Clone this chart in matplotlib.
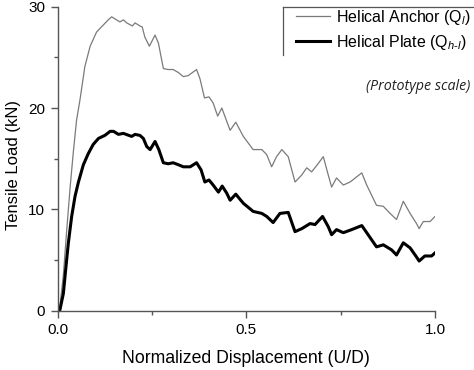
import matplotlib
matplotlib.use("Agg")
import matplotlib.pyplot as plt
from matplotlib.lines import Line2D
from matplotlib.ticker import MultipleLocator

plt.rcParams["font.family"] = ["Liberation Sans", "DejaVu Sans"]
plt.rcParams["mathtext.fontset"] = "custom"
plt.rcParams["mathtext.rm"] = "Liberation Sans"
plt.rcParams["mathtext.it"] = "Liberation Sans:italic"

# Helical anchor (Q_l)
anchor_x = [0.0, 0.006, 0.015, 0.024, 0.033, 0.041, 0.050, 0.059, 0.072, 0.086,
            0.103, 0.121, 0.134, 0.143, 0.156, 0.165, 0.174, 0.183, 0.198, 0.205,
            0.218, 0.224, 0.231, 0.243, 0.258, 0.267, 0.280, 0.293, 0.306, 0.320,
            0.333, 0.346, 0.368, 0.377, 0.389, 0.401, 0.412, 0.424, 0.435, 0.448,
            0.457, 0.472, 0.492, 0.518, 0.541, 0.554, 0.567, 0.580, 0.594, 0.611,
            0.629, 0.647, 0.660, 0.673, 0.688, 0.704, 0.717, 0.726, 0.739, 0.757,
            0.775, 0.792, 0.806, 0.819, 0.845, 0.863, 0.881, 0.898, 0.916, 0.934,
            0.951, 0.958, 0.969, 0.987, 1.0]
anchor_y = [0.0, 0.5, 3.5, 8.0, 12.2, 15.5, 18.8, 20.8, 24.1, 26.1,
            27.5, 28.2, 28.7, 29.0, 28.7, 28.5, 28.7, 28.4, 28.1, 28.4,
            28.1, 28.0, 27.0, 26.1, 27.2, 26.4, 23.9, 23.8, 23.8, 23.5,
            23.1, 23.2, 23.8, 22.9, 21.0, 21.1, 20.5, 19.2, 20.0, 18.7,
            17.8, 18.6, 17.2, 15.9, 15.9, 15.4, 14.2, 15.2, 15.9, 15.2,
            12.7, 13.4, 14.1, 13.7, 14.4, 15.2, 13.4, 12.2, 13.1, 12.4,
            12.7, 13.2, 13.6, 12.4, 10.4, 10.3, 9.6, 9.0, 10.8, 9.6,
            8.6, 8.1, 8.8, 8.8, 9.3]

# Helical plate (Q_h-l)
plate_x = [0.0015, 0.006, 0.015, 0.021, 0.028, 0.037, 0.046, 0.055, 0.068, 0.081,
           0.094, 0.108, 0.125, 0.139, 0.148, 0.161, 0.174, 0.196, 0.205, 0.218,
           0.227, 0.236, 0.245, 0.258, 0.268, 0.280, 0.293, 0.306, 0.320, 0.333,
           0.351, 0.368, 0.380, 0.390, 0.401, 0.412, 0.426, 0.436, 0.448, 0.457,
           0.472, 0.492, 0.518, 0.541, 0.554, 0.571, 0.589, 0.611, 0.629, 0.647,
           0.669, 0.682, 0.702, 0.717, 0.726, 0.739, 0.757, 0.779, 0.806, 0.819,
           0.845, 0.863, 0.885, 0.898, 0.916, 0.934, 0.951, 0.958, 0.973, 0.991,
           1.0]
plate_y = [0.0, 0.1, 1.7, 4.0, 6.6, 9.3, 11.3, 12.7, 14.4, 15.5,
           16.4, 17.0, 17.3, 17.7, 17.7, 17.4, 17.5, 17.2, 17.4, 17.3,
           17.0, 16.2, 15.9, 16.7, 15.9, 14.6, 14.5, 14.6, 14.4, 14.2,
           14.2, 14.6, 13.9, 12.7, 12.9, 12.4, 11.7, 12.3, 11.6, 10.9,
           11.5, 10.6, 9.8, 9.6, 9.3, 8.7, 9.6, 9.7, 7.8, 8.1,
           8.6, 8.5, 9.3, 8.3, 7.5, 8.0, 7.7, 8.0, 8.4, 7.7,
           6.3, 6.5, 6.0, 5.5, 6.7, 6.2, 5.3, 4.9, 5.4, 5.4,
           5.7]

W, H = 474, 370
fig = plt.figure(figsize=(W / 100, H / 100), dpi=100)
ax = fig.add_axes([57.7 / W, 1 - 310.7 / H, (435 - 57.7) / W, (310.7 - 6.7) / H])

ax.plot(anchor_x, anchor_y, color="#7a7a7a", lw=0.9, solid_joinstyle="round",
        label=r"Helical Anchor (Q$_{l}$)")
ax.plot(plate_x, plate_y, color="black", lw=2.2, solid_joinstyle="round",
        label=r"Helical Plate (Q$_{h\text{-}l}$)")

ax.set_xlim(0, 1)
ax.set_ylim(0, 30)
ax.xaxis.set_major_locator(MultipleLocator(0.5))
ax.xaxis.set_minor_locator(MultipleLocator(0.25))
ax.yaxis.set_major_locator(MultipleLocator(10))
ax.yaxis.set_minor_locator(MultipleLocator(5))
ax.xaxis.set_major_formatter(lambda v, p: f"{v:.1f}")

for s in ["top", "right"]:
    ax.spines[s].set_visible(False)
for s in ["left", "bottom"]:
    ax.spines[s].set_color("#555555")
    ax.spines[s].set_linewidth(1.0)
ax.tick_params(which="major", length=5, width=1, color="#555555", labelsize=11, pad=4)
ax.tick_params(which="minor", length=3, width=1, color="#555555")

ax.set_xlabel("Normalized Displacement (U/D)", fontsize=12.7, labelpad=9)
ax.set_ylabel("Tensile Load (kN)", fontsize=12, va="center")
ax.yaxis.set_label_coords(-0.116, 0.48)

leg = ax.legend(loc="upper left", bbox_to_anchor=(296 / W, 1 - 8 / H),
                bbox_transform=fig.transFigure, frameon=False,
                fontsize=11.5, handlelength=2.1, handletextpad=0.4,
                labelspacing=0.35, borderpad=0.0, borderaxespad=0.0)

# partial legend frame (top and left edges only)
fig.add_artist(Line2D([283 / W, 1.0], [1 - 7 / H, 1 - 7 / H], color="#555555", lw=0.9))
fig.add_artist(Line2D([283 / W, 283 / W], [1 - 7 / H, 1 - 55 / H], color="#555555", lw=0.9))

fig.text(470 / W, 1 - 86 / H, "(Prototype scale)", ha="right", va="center",
         fontsize=10.3, style="italic", family=["Open Sans", "DejaVu Sans"], color="#222222")

fig.savefig("out.png", dpi=100)
